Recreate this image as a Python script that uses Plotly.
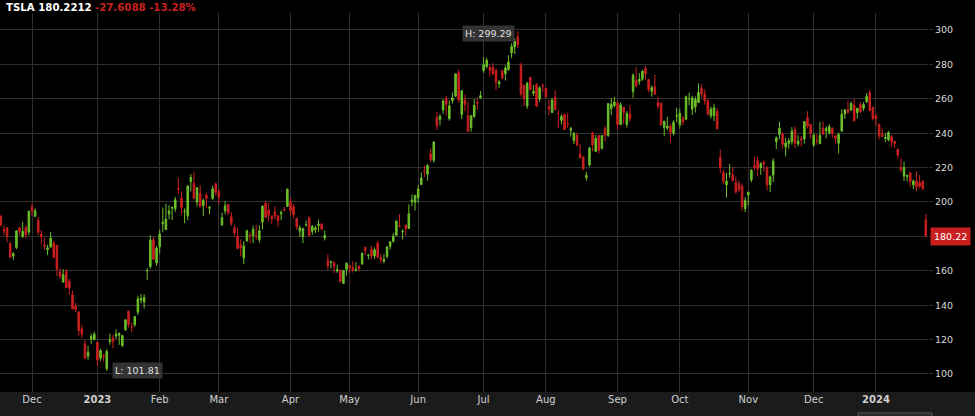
import pandas as pd
import plotly.graph_objects as go

# ---------------- DATA ----------------
start_date = "2022-11-15"
end_date = "2024-01-25"
market_holidays = ["2022-11-24", "2022-12-26", "2023-01-02", "2023-01-16", "2023-02-20",
                   "2023-04-07", "2023-05-29", "2023-06-19", "2023-07-04", "2023-09-04",
                   "2023-11-23", "2023-12-25", "2024-01-01", "2024-01-15"]

opens = [
    195.88, 191.51, 183.96, 185.05, 175.85, 168.63, 173.57, 185.06, 179.96, 184.99, 182.43,
    197.08, 191.78, 189.44, 181.22, 175.03, 172.20, 173.84, 176.10, 174.87, 159.25, 153.44, 159.64, 154.00, 146.05, 139.34, 136.00, 126.37, 117.50, 110.35, 120.39, 119.95,
    118.47, 109.11, 110.51, 103.00, 118.96, 121.07, 122.09, 122.56, 116.55, 125.70, 136.56, 127.26, 128.68, 135.87, 143.00, 141.91, 159.97, 162.43, 178.05, 164.57,
    173.89, 187.33, 183.95, 193.01, 196.43, 196.10, 207.78, 202.23, 194.42, 191.94, 211.76, 210.78, 199.99, 204.99, 197.93, 203.91, 196.33, 202.03, 210.59,
    206.21, 186.74, 194.80, 198.54, 191.38, 185.04, 180.25, 175.13, 167.46, 177.31, 180.80, 180.37, 180.16, 178.08, 188.28, 199.30, 195.26, 191.65, 194.42, 192.00, 193.13, 195.58, 197.53,
    199.91, 197.32, 190.52, 183.08, 179.94, 186.69, 190.74, 182.96, 183.95, 186.32, 187.15, 179.10, 166.17, 164.80, 164.65, 159.82, 160.29, 152.64, 160.90,
    163.17, 161.88, 160.01, 162.71, 163.97, 173.72, 168.95, 172.55, 168.70, 176.07, 167.66, 165.65, 168.41, 174.22, 177.17, 180.70, 186.20, 182.56, 186.54, 184.62, 200.10, 199.78,
    202.59, 210.15, 217.80, 216.14, 228.00, 224.22, 249.07, 247.94, 253.51, 260.17, 248.40, 258.92, 261.50, 275.13, 250.77, 259.29, 250.07, 243.24, 249.70, 258.03, 260.60,
    276.49, 278.82, 278.09, 278.43, 276.47, 268.65, 276.33, 274.59, 277.01, 286.63, 290.15, 296.04, 279.56, 268.00, 255.85, 272.38, 263.25, 268.31, 259.86, 267.48,
    266.26, 255.57, 252.04, 260.97, 251.45, 247.45, 250.87, 245.40, 241.77, 235.70, 238.73, 228.02, 226.06, 214.12, 221.55, 240.25, 229.34, 238.66, 231.31, 242.58, 238.58, 254.20, 255.98,
    257.26, 245.00, 255.14, 245.07, 251.22, 264.27, 270.76, 270.07, 271.32, 277.55, 271.16, 264.35, 267.04, 257.85, 257.40, 243.38, 242.98, 244.26, 240.02, 250.00,
    244.81, 248.61, 248.14, 260.00, 253.98, 255.31, 257.75, 266.20, 262.92, 258.90, 250.05, 250.10, 252.70, 225.95, 217.01, 210.00, 216.50, 215.88, 211.32, 210.60, 209.28, 196.12,
    204.04, 212.97, 221.15, 223.98, 219.98, 223.15, 219.75, 210.03, 215.60, 235.03, 239.29, 239.49, 232.00, 234.04, 235.04, 242.04, 233.75, 236.89, 236.68, 249.21, 245.14,
    233.14, 235.75, 233.87, 242.92, 241.55, 240.27, 242.74, 238.55, 234.19, 241.22, 251.21, 253.78, 253.48, 256.41, 251.90, 256.76, 254.49, 258.35, 263.66, 255.10,
    250.08, 244.98, 239.25, 236.86, 236.14, 238.11, 235.10, 230.57, 220.08, 215.10, 214.86, 216.88, 209.99, 212.26, 211.30, 211.88, 189.70,
]

highs = [
    200.82, 192.57, 186.16, 185.19, 176.77, 170.92, 183.62, 185.20, 188.50, 186.38, 194.76,
    198.92, 196.25, 191.27, 183.65, 179.38, 175.20, 182.50, 177.37, 175.05, 161.62, 160.93, 160.99, 155.25, 148.47, 141.26, 136.63, 128.62, 119.67, 116.27, 123.57, 124.48,
    118.80, 114.59, 111.75, 114.39, 123.52, 122.76, 125.95, 124.13, 122.63, 131.70, 136.68, 129.99, 133.51, 145.38, 146.50, 146.41, 161.42, 180.68, 179.77, 174.30,
    183.81, 196.75, 199.00, 198.17, 197.50, 203.00, 214.00, 206.20, 196.30, 209.82, 216.20, 217.65, 208.44, 209.71, 201.99, 205.14, 197.67, 209.42, 211.23,
    207.20, 193.75, 200.48, 198.60, 194.20, 186.50, 185.18, 178.29, 177.35, 183.80, 182.34, 186.22, 186.70, 186.44, 198.00, 200.66, 199.31, 192.36, 197.39, 192.35, 195.29, 197.33, 207.79,
    202.69, 198.74, 190.68, 186.39, 185.10, 189.19, 191.58, 186.50, 186.28, 189.69, 187.69, 183.50, 169.70, 166.00, 165.65, 163.47, 160.67, 160.48, 165.00,
    163.28, 165.49, 165.00, 162.95, 170.79, 173.80, 169.82, 174.43, 173.57, 177.38, 169.76, 169.52, 174.50, 177.06, 181.95, 189.32, 192.96, 184.22, 186.78, 198.60, 204.48, 203.95,
    209.80, 217.25, 221.29, 221.91, 230.83, 235.23, 252.42, 250.97, 259.68, 261.57, 258.95, 263.60, 274.75, 276.99, 265.00, 262.45, 258.37, 250.39, 259.88, 260.74, 264.45,
    284.25, 283.85, 279.97, 280.78, 277.52, 270.90, 276.52, 279.45, 285.30, 292.23, 295.26, 299.29, 280.93, 268.00, 269.85, 272.90, 268.04, 269.13, 267.25, 269.08,
    266.47, 259.52, 260.49, 264.77, 253.65, 250.92, 251.10, 251.80, 243.79, 240.66, 240.50, 233.97, 226.74, 217.58, 232.13, 240.82, 238.98, 238.92, 239.00, 244.38, 257.48, 260.51, 261.18,
    259.08, 258.00, 255.39, 252.81, 256.52, 274.85, 278.39, 274.98, 276.71, 278.98, 271.44, 267.85, 273.93, 260.86, 257.79, 247.10, 249.55, 245.33, 247.55, 254.77,
    254.28, 250.02, 261.86, 263.60, 261.65, 261.36, 268.94, 268.60, 265.41, 259.60, 255.40, 257.18, 254.63, 230.61, 218.86, 216.98, 222.05, 220.10, 214.80, 212.41, 210.88, 202.80,
    205.99, 219.20, 226.37, 226.32, 223.12, 224.15, 220.80, 215.38, 225.40, 238.14, 246.70, 240.88, 237.39, 237.10, 243.62, 244.01, 238.75, 238.33, 247.00, 252.75, 245.22,
    240.19, 239.37, 246.66, 246.57, 244.08, 245.27, 243.44, 238.99, 240.30, 253.88, 254.13, 258.74, 258.34, 259.84, 254.80, 258.22, 257.97, 263.34, 265.13, 255.19,
    251.25, 245.68, 242.70, 240.12, 241.25, 238.96, 235.50, 230.93, 225.34, 223.49, 215.67, 217.45, 213.19, 217.80, 215.65, 212.73, 193.00,
]

lows = [
    192.06, 185.66, 180.90, 176.55, 167.54, 166.19, 172.50, 180.63, 179.00, 178.75, 180.63,
    191.80, 191.11, 180.55, 175.33, 172.22, 169.06, 173.36, 167.52, 156.91, 155.31, 153.28, 150.04, 145.82, 137.66, 135.89, 122.26, 121.02, 108.76, 108.24, 117.50, 119.75,
    104.64, 107.52, 107.16, 101.81, 117.11, 114.92, 120.51, 117.00, 115.60, 125.02, 127.01, 124.31, 127.35, 134.27, 141.10, 138.07, 154.76, 161.17, 166.50, 162.78,
    169.93, 182.61, 183.69, 189.92, 189.55, 194.31, 204.77, 192.89, 187.61, 189.44, 206.11, 201.84, 197.50, 197.22, 191.78, 196.33, 192.80, 201.26, 203.75,
    198.52, 186.01, 192.88, 192.30, 186.10, 180.00, 172.51, 168.44, 163.91, 177.14, 176.03, 176.10, 178.00, 176.35, 184.20, 190.95, 188.65, 187.15, 189.94, 185.43, 189.44, 194.42, 197.20,
    192.20, 190.32, 183.76, 179.74, 176.11, 185.65, 180.31, 180.94, 182.01, 182.69, 183.58, 177.65, 160.56, 161.32, 158.61, 158.75, 153.14, 152.37, 157.32,
    158.83, 158.93, 159.91, 159.65, 163.51, 169.19, 166.56, 166.68, 166.79, 167.23, 164.55, 164.35, 167.19, 172.45, 176.31, 180.11, 185.26, 178.22, 180.58, 184.53, 197.53, 195.12,
    199.37, 209.75, 214.52, 212.53, 223.20, 223.01, 242.02, 244.59, 251.34, 250.50, 247.29, 257.21, 261.07, 257.78, 248.25, 252.80, 240.70, 240.85, 248.89, 253.61, 259.89,
    275.11, 277.60, 272.88, 273.77, 265.10, 266.37, 271.46, 270.60, 276.31, 283.57, 286.01, 289.52, 261.20, 255.80, 254.12, 265.00, 261.75, 255.30, 258.23, 263.78,
    260.25, 250.49, 252.00, 253.11, 242.76, 245.01, 241.90, 243.13, 238.02, 233.75, 232.61, 225.38, 218.83, 212.36, 220.58, 229.55, 229.29, 228.18, 230.35, 235.35, 237.77, 250.59, 255.05,
    242.01, 244.86, 245.06, 243.27, 246.67, 260.61, 266.60, 268.10, 270.42, 271.00, 263.76, 261.20, 262.46, 254.21, 244.48, 238.31, 241.66, 234.58, 238.65, 246.35,
    242.62, 244.45, 247.60, 256.25, 250.65, 252.05, 257.65, 260.90, 256.63, 250.22, 248.48, 247.08, 242.08, 216.78, 210.42, 202.51, 214.11, 212.20, 204.88, 205.77, 194.67, 194.07,
    197.85, 211.45, 218.40, 215.00, 215.72, 217.64, 206.68, 205.69, 211.61, 230.72, 236.45, 230.96, 226.54, 231.02, 233.34, 231.40, 232.33, 232.10, 234.01, 242.76, 236.91,
    231.90, 233.29, 233.70, 239.17, 236.98, 239.27, 237.45, 233.87, 228.20, 240.79, 248.30, 251.36, 253.01, 247.00, 248.55, 251.37, 252.91, 257.52, 252.71, 247.43,
    244.41, 236.32, 237.73, 234.90, 235.30, 232.04, 231.29, 225.37, 217.15, 212.18, 212.01, 208.74, 207.56, 206.27, 207.75, 206.77, 180.06,
]

closes = [
    194.42, 186.92, 183.17, 180.19, 167.87, 169.91, 183.20, 182.86, 182.92, 180.83, 194.70,
    194.70, 194.86, 182.45, 179.82, 174.04, 173.44, 179.05, 167.82, 160.95, 156.80, 157.67, 150.23, 149.87, 137.80, 137.57, 125.35, 123.15, 109.10, 112.71, 121.82, 123.18,
    108.10, 113.64, 110.34, 113.06, 119.77, 118.85, 123.22, 123.56, 122.40, 131.49, 128.78, 127.17, 133.42, 143.75, 143.89, 144.43, 160.27, 177.90, 166.66, 173.22,
    181.41, 188.27, 189.98, 194.76, 196.81, 201.29, 207.32, 196.89, 194.64, 209.25, 214.24, 202.04, 208.31, 197.37, 200.86, 202.07, 196.88, 207.63, 205.71,
    202.77, 190.90, 197.79, 193.81, 187.71, 182.00, 172.92, 173.44, 174.48, 183.26, 180.45, 184.13, 180.13, 183.25, 197.58, 191.15, 192.22, 190.41, 191.81, 189.19, 193.88, 195.28, 207.46,
    194.77, 192.58, 185.52, 185.06, 184.51, 186.79, 180.54, 185.90, 185.00, 187.04, 184.31, 180.59, 162.99, 165.08, 162.55, 160.67, 153.75, 160.19, 164.31,
    161.83, 160.31, 160.61, 161.20, 170.06, 171.79, 169.15, 168.54, 172.08, 167.98, 166.35, 166.52, 173.86, 176.89, 180.14, 188.87, 185.77, 182.90, 184.47, 193.17, 201.16, 203.93,
    207.52, 213.97, 217.61, 221.31, 224.57, 234.86, 244.40, 249.83, 258.71, 256.79, 255.90, 260.54, 274.45, 259.46, 264.61, 256.60, 241.05, 250.21, 256.24, 257.50, 261.77,
    279.82, 282.48, 276.54, 274.43, 269.61, 269.79, 271.99, 277.90, 281.38, 290.38, 293.34, 291.26, 262.90, 260.02, 269.06, 265.28, 264.35, 255.71, 266.44, 267.43,
    261.07, 254.11, 259.32, 253.86, 251.45, 249.70, 242.19, 245.34, 242.65, 239.76, 232.96, 225.60, 219.22, 215.49, 231.28, 233.19, 236.86, 230.04, 238.59, 238.82, 257.18, 256.90, 258.08,
    245.01, 256.49, 251.92, 251.49, 248.50, 273.58, 267.48, 271.30, 276.04, 274.39, 265.28, 266.50, 262.59, 255.70, 244.88, 246.99, 244.12, 240.50, 246.38, 250.22,
    251.60, 246.53, 261.16, 260.05, 260.53, 259.67, 263.62, 262.99, 258.87, 251.12, 253.92, 254.85, 242.68, 220.11, 211.99, 212.08, 216.52, 212.42, 205.76, 207.30, 197.36, 200.84,
    205.66, 218.51, 219.96, 219.27, 222.18, 222.11, 209.98, 214.65, 223.71, 237.41, 242.84, 233.59, 234.30, 235.60, 241.20, 234.21, 235.45, 236.08, 246.72, 244.14, 240.08,
    238.83, 235.58, 238.72, 239.37, 242.64, 243.84, 239.74, 237.01, 239.29, 251.05, 253.50, 252.08, 257.22, 247.14, 254.50, 252.54, 256.61, 261.44, 253.18, 248.48,
    248.42, 238.45, 237.93, 237.49, 240.45, 234.96, 233.94, 227.22, 218.89, 219.91, 215.55, 211.88, 212.19, 208.80, 209.14, 207.83, 180.22,
]

month_ticks = ["2022-12-01", "2023-01-03", "2023-02-01", "2023-03-01", "2023-04-03", "2023-05-01",
               "2023-06-01", "2023-07-03", "2023-08-01", "2023-09-01", "2023-10-02", "2023-11-01",
               "2023-12-01", "2024-01-02"]
month_labels = ["Dec", "<b>2023</b>", "Feb", "Mar", "Apr", "May", "Jun", "Jul", "Aug", "Sep",
                "Oct", "Nov", "Dec", "<b>2024</b>"]
y_ticks = [100, 120, 140, 160, 180, 200, 220, 240, 260, 280, 300]
# the 180 label sits under the last-price marker, so it is left blank
y_labels = ["100", "120", "140", "160", "", "200", "220", "240", "260", "280", "300"]

symbol = "TSLA"
last_price_text = "180.2212"
change_text = "-27.6088 -13.28%"
high_value = 299.29
high_date = "2023-07-19"
low_value = 101.81
low_date = "2023-01-06"
last_value = 180.22

# ---------------- FIGURE ----------------
dates = [d.strftime("%Y-%m-%d") for d in
         pd.bdate_range(start_date, end_date, freq="C", holidays=market_holidays)]
n = min(len(dates), len(opens), len(highs), len(lows), len(closes))
dates = dates[:n]

GREEN = "#6cbf2a"
RED = "#c9201f"
GRID = "#303030"
FONT = "DejaVu Sans"

W, H = 975, 416
ML, MR, MT, MB = 0, 47, 13, 24
PH = H - MT - MB
PW = W - ML - MR

fig = go.Figure(go.Candlestick(
    x=dates, open=opens[:n], high=highs[:n], low=lows[:n], close=closes[:n],
    increasing=dict(line=dict(color=GREEN, width=1), fillcolor=GREEN),
    decreasing=dict(line=dict(color=RED, width=1), fillcolor=RED),
    whiskerwidth=0, showlegend=False, hoverinfo="skip",
))

fig.update_layout(
    width=W, height=H,
    margin=dict(l=ML, r=MR, t=MT, b=MB, pad=0),
    paper_bgcolor="#000000", plot_bgcolor="#000000",
    font=dict(family=FONT, color="#d8d8d8", size=10),
    showlegend=False,
    xaxis=dict(
        type="category", categoryorder="trace",
        range=[0.725, 298.7],
        tickmode="array", tickvals=month_ticks, ticktext=month_labels,
        showgrid=True, gridcolor=GRID, gridwidth=1,
        ticks="", showline=False, zeroline=False,
        tickfont=dict(family=FONT, size=10, color="#d0d0d0"),
        rangeslider=dict(visible=False),
    ),
    yaxis=dict(
        side="right", range=[89.53, 309.88],
        tickmode="array", tickvals=y_ticks, ticktext=y_labels,
        showgrid=True, gridcolor=GRID, gridwidth=1,
        ticks="outside", ticklen=4, tickcolor=GRID,
        showline=False, zeroline=False,
        tickfont=dict(family=FONT, size=9.5, color="#d8d8d8"),
    ),
    shapes=[
        dict(type="rect", xref="paper", yref="paper",
             x0=-0.01, x1=(W + 5) / PW, y0=-(MB + 2) / PH, y1=0,
             fillcolor="#1b1b1b", line=dict(width=0), layer="below"),
        dict(type="rect", xref="paper", yref="paper",
             x0=858 / PW, x1=932 / PW, y0=-21 / PH, y1=-(MB + 2) / PH,
             fillcolor="#2a2a2a", line=dict(color="#555555", width=1), layer="below"),
    ],
    annotations=[
        dict(xref="paper", yref="paper", x=0, y=1 + 6 / PH, xshift=4,
             xanchor="left", yanchor="middle", showarrow=False,
             text=f"<b>{symbol} {last_price_text}</b> <b><span style='color:{RED}'>{change_text}</span></b>",
             font=dict(family=FONT, size=10.2, color="#ffffff")),
        dict(x=high_date, y=high_value, xref="x", yref="y", xanchor="right", yanchor="middle",
             xshift=-3, yshift=-2, showarrow=False, text=f"H: {high_value:.2f}",
             bgcolor="#333333", borderpad=2,
             font=dict(family=FONT, size=9.5, color="#e0e0e0")),
        dict(x=low_date, y=low_value, xref="x", yref="y", xanchor="left", yanchor="middle",
             xshift=5, showarrow=False, text=f"L: {low_value:.2f}",
             bgcolor="#333333", borderpad=2,
             font=dict(family=FONT, size=9.5, color="#e0e0e0")),
        dict(xref="paper", yref="y", x=1, y=last_value, xshift=2,
             xanchor="left", yanchor="middle", showarrow=False,
             text=f"{last_value:.2f}", bgcolor=RED, borderpad=3,
             font=dict(family=FONT, size=9.5, color="#ffffff")),
    ],
)

fig.write_html("out.html")
